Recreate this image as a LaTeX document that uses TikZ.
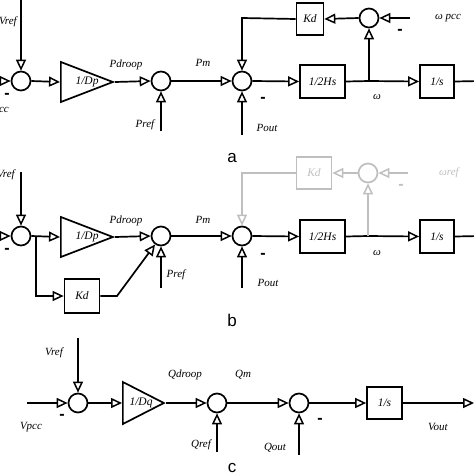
\documentclass[tikz,border=0pt]{standalone}
\usepackage{fontspec}
\setmainfont{Liberation Serif}
\newfontfamily\capfont{Liberation Sans}
\usetikzlibrary{arrows.meta, shapes.geometric}
\tikzset{
    sumj/.style = {circle, draw, line width=1.7pt, minimum size=19pt, inner sep=0pt, fill=white},
    blk/.style = {rectangle, draw, line width=1.7pt, minimum height=33pt, inner sep=0pt, font=\fontsize{11.5}{13}\selectfont\itshape},
    gain/.style = {isosceles triangle, isosceles triangle stretches, draw, line width=1.7pt, inner sep=0pt, anchor=west},
    gaintxt/.style = {font=\fontsize{11.5}{13}\selectfont\itshape, inner sep=0pt},
    sig/.style = {-{Triangle[open, length=11pt, width=10pt, line width=1.5pt]}, line width=1.7pt},
    wire/.style = {line width=1.7pt},
    lbl/.style = {font=\fontsize{11}{13}\selectfont\itshape, inner sep=0pt},
    sgn/.style = {font=\capfont\bfseries\fontsize{16}{16}\selectfont, inner sep=0pt},
    faded/.style = {draw=black!25, text=black!25},
    panellbl/.style = {font=\capfont\fontsize{17}{19}\selectfont, inner sep=0pt}
}

\begin{document}
\begin{tikzpicture}[x=1pt, y=-1pt]
\useasboundingbox (0,0) rectangle (474,474);
\clip (0,0) rectangle (474,474);

% ---- (a) ----
\node[sumj] (sa1) at (21,81) {};
\node[gain, minimum width=40pt, minimum height=52pt] (ga) at (60,82) {};
\node[gaintxt] (gat) at ([xshift=27pt]ga.west) {1/Dp};
\node[sumj] (sa2) at (161,81) {};
\node[sumj] (sa3) at (242,81) {};
\node[blk, minimum width=45pt] (hsa) at (322.5,81.5) {1/2Hs};
\node[blk, minimum width=34pt] (inta) at (437,81.5) {1/s};
\node[sumj] (sa4) at (369,18) {};
\node[blk, minimum width=27pt, minimum height=32pt] (kda) at (310,19) {Kd};
\coordinate (vrefa) at (21,-2);
\coordinate (vpcca) at (-8,81);
\coordinate (prefa) at (161,131);
\coordinate (pouta) at (242,135);
\coordinate (wa) at (369,81);
\coordinate (wpcca) at (410,18);
\coordinate (kdca) at (242,18);
\coordinate (outa) at (480,81);

\node[lbl, anchor=east] at (17,22) {Vref};
\node[lbl, anchor=east] at (9,110) {Vpcc};
\node[sgn] at (7,96) {-};
\node[lbl] at (126,65) {Pdroop};
\node[lbl] at (203,63) {Pm};
\node[lbl] at (145,125) {Pref};
\node[lbl] at (267,128) {Pout};
\node[sgn] at (263,100) {-};
\node[lbl] at (377,97) {ω};
\node[lbl] at (448,18) {ω pcc};
\node[sgn] at (400,32) {-};
\node[panellbl] (capa) at (232,158) {a};

% inputs -> sum
\draw[sig] (vrefa) -- (sa1.north);
\draw[sig] (vpcca) -- (sa1.west);
% sum -> droop -> sum
\draw[sig] (sa1.east) -- (ga.west);
\draw[sig] (ga.apex) -- (sa2.west);
\draw[sig] (prefa) -- (sa2.south);
% Pm -> swing
\draw[sig] (sa2.east) -- (sa3.west);
\draw[sig] (pouta) -- (sa3.south);
\draw[sig] (sa3.east) -- (hsa.west);
\draw[wire] (hsa.east) -- (wa);
\draw[sig] (wa) -- (inta.west);
\draw[wire] (inta.east) -- (outa);
% damping loop
\draw[sig] (wa) -- (sa4.south);
\draw[sig] (wpcca) -- (sa4.east);
\draw[sig] (sa4.west) -- (kda.east);
\draw[sig] (kda.west) -- (kdca) -- (sa3.north);

% ---- (b) ----
\node[sumj] (sb1) at (21,236) {};
\node[gain, minimum width=40pt, minimum height=52pt] (gb) at (60,237) {};
\node[gaintxt] (gbt) at ([xshift=27pt]gb.west) {1/Dp};
\node[blk, minimum width=35pt, minimum height=34pt] (kdb) at (82,296) {Kd};
\node[sumj] (sb2) at (161,236) {};
\node[sumj] (sb3) at (242,236) {};
\node[blk, minimum width=45pt] (hsb) at (322.5,236.5) {1/2Hs};
\node[blk, minimum width=34pt] (intb) at (437,236.5) {1/s};
\node[sumj, faded] (sb4) at (368,173) {};
\node[blk, faded, minimum width=35pt, minimum height=32pt] (kdbg) at (314,173) {Kd};
\coordinate (vrefb) at (21,172);
\coordinate (vpccb) at (-8,236);
\coordinate (brb) at (36,236);
\coordinate (kdcb) at (117,296);
\coordinate (prefb) at (161,288);
\coordinate (poutb) at (242,288);
\coordinate (wb) at (368,236);
\coordinate (wrefb) at (408,173);
\coordinate (kdgb) at (242,173);
\coordinate (outb) at (480,236);

\node[lbl, anchor=east] at (15,175) {Vref};
\node[sgn] at (7,251) {-};
\node[lbl] at (126,221) {Pdroop};
\node[lbl] at (203,220) {Pm};
\node[lbl] at (176,275) {Pref};
\node[lbl] at (268,283) {Pout};
\node[sgn] at (263,256) {-};
\node[lbl] at (377,253) {ω};
\node[lbl, text=black!25] at (449,173) {ωref};
\node[sgn, text=black!25] at (401,187) {-};
\node[panellbl] (capb) at (232,320) {b};

% inputs -> sum
\draw[sig] (vrefb) -- (sb1.north);
\draw[sig] (vpccb) -- (sb1.west);
% droop and Kd paths
\draw[sig] (sb1.east) -- (gb.west);
\draw[sig] (brb) |- (kdb.west);
\draw[sig] (gb.apex) -- (sb2.west);
\draw[sig] (kdb.east) -- (kdcb) -- (sb2.235);
\draw[sig] (prefb) -- (sb2.south);
% Pm -> swing
\draw[sig] (sb2.east) -- (sb3.west);
\draw[sig] (poutb) -- (sb3.south);
\draw[sig] (sb3.east) -- (hsb.west);
\draw[wire] (hsb.east) -- (wb);
\draw[sig] (wb) -- (intb.west);
\draw[wire] (intb.east) -- (outb);
% removed damping loop (grey)
\draw[sig, black!25] (wb) -- (sb4.south);
\draw[sig, black!25] (wrefb) -- (sb4.east);
\draw[sig, black!25] (sb4.west) -- (kdbg.east);
\draw[sig, black!25] (kdbg.west) -- (kdgb) -- (sb3.north);

% ---- (c) ----
\node[sumj] (sc1) at (78,403) {};
\node[gain, minimum width=42pt, minimum height=41pt] (gc) at (122,403) {};
\node[gaintxt] (gct) at ([xshift=19pt]gc.west) {1/Dq};
\node[sumj] (sc2) at (217,403) {};
\node[sumj] (sc3) at (299,403) {};
\node[blk, minimum width=35pt, minimum height=32pt] (intc) at (384.5,403) {1/s};
\coordinate (vrefc) at (78,338);
\coordinate (vpccc) at (27,403);
\coordinate (qrefc) at (217,452);
\coordinate (qoutc) at (299,455);
\coordinate (voutc) at (474,403);

\node[lbl] at (54,353) {Vref};
\node[lbl] at (31,427) {Vpcc};
\node[sgn] at (62,417) {-};
\node[lbl] at (185,375) {Qdroop};
\node[lbl] at (243,375) {Qm};
\node[lbl] at (201,445) {Qref};
\node[lbl] at (275,448) {Qout};
\node[sgn] at (320,421) {-};
\node[lbl] at (438,427) {Vout};
\node[panellbl] (capc) at (232,468) {c};

% voltage droop chain
\draw[sig] (vrefc) -- (sc1.north);
\draw[sig] (vpccc) -- (sc1.west);
\draw[sig] (sc1.east) -- (gc.west);
\draw[sig] (gc.apex) -- (sc2.west);
\draw[sig] (qrefc) -- (sc2.south);
\draw[sig] (sc2.east) -- (sc3.west);
\draw[sig] (qoutc) -- (sc3.south);
\draw[sig] (sc3.east) -- (intc.west);
\draw[sig] (intc.east) -- (voutc);
\end{tikzpicture}
\end{document}
